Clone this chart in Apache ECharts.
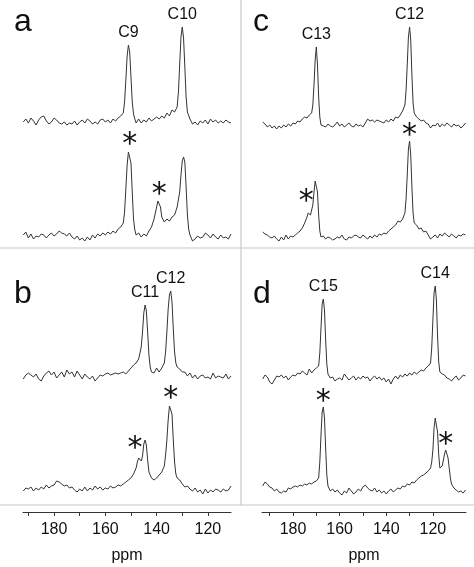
<!DOCTYPE html><html><head><meta charset="utf-8">
<script src="https://cdn.jsdelivr.net/npm/echarts@6/dist/echarts.min.js"></script>
<style>html,body{margin:0;padding:0;background:#fff}#c{width:474px;height:567px}</style></head><body><div id="c"></div>
<script>
// spectra: [ppm, intensity above own baseline]
const aTop=[[192,0],[191,3],[190,-1],[189,4],[188,1],[187,-3],[186,2],[185,5],[184,6],[183,1],[182,-2],[181,0],[180,4],[179,2],[178,-1],[177,-2],[176,0],[175,-3],[174,-1],[173,-2],[172,1],[171,-3],[170,0],[169,2],[168,-1],[167,3],[166,1],[165,-2],[164,0],[163,-2],[162,2],[161,3],[160,0],[159,2],[158,-1],[157,3],[156,1],[155,4],[154,6],[153,9],[152.5,20],[152,42],[151.5,66],[151,77],[150.5,70],[150,45],[149.5,20],[149,8],[148.5,3],[148,-1],[147,3],[146,-1],[145,2],[144,0],[143,4],[142,1],[141,3],[140,5],[139,3],[138,6],[137,4],[136,9],[135,6],[134,12],[133,10],[132,15],[131.5,30],[131,58],[130.5,85],[130,95],[129.5,84],[129,55],[128.5,25],[128,10],[127,3],[126,-2],[125,0],[124,-3],[123,1],[122,-1],[121,2],[120,-2],[119,3],[118,0],[117,2],[116,-1],[115,1],[114,-1],[113,2],[112,0],[111,-1]];
const aBot=[[192,2],[191,5],[190,-1],[189,3],[188,-2],[187,1],[186,0],[185,3],[184,2],[183,-1],[182,2],[181,4],[180,1],[179,3],[178,6],[177,4],[176,3],[175,1],[174,4],[173,0],[172,-2],[171,1],[170,-3],[169,-1],[168,-4],[167,0],[166,-3],[165,2],[164,-1],[163,3],[162,1],[161,4],[160,2],[159,5],[158,3],[157,6],[156,4],[155,8],[154,10],[153,14],[152.5,25],[152,48],[151.5,72],[151,85],[150.5,87],[150,74],[149.5,45],[149,18],[148.5,7],[148,2],[147,4],[146,0],[145,3],[144,1],[143,6],[142,10],[141,18],[140,30],[139.5,36],[139,37],[138.5,30],[138,20],[137,15],[136,18],[135,16],[134,20],[133,22],[132,30],[131,45],[130.5,62],[130,76],[129.5,80],[129,75],[128.5,50],[128,22],[127.5,8],[127,2],[126,-4],[125,-2],[124,1],[123,-1],[122,0],[121,4],[120,2],[119,-1],[118,3],[117,0],[116,-2],[115,2],[114,-1],[113,0],[112,-2],[111,3]];
const bTop=[[192,-2],[191,2],[190,4],[189,2],[188,0],[187,3],[186,-2],[185,-4],[184,1],[183,4],[182,6],[181,2],[180,5],[179,-1],[178,2],[177,5],[176,0],[175,7],[174,3],[173,5],[172,0],[171,6],[170,2],[169,-2],[168,3],[167,0],[166,-2],[165,1],[164,-4],[163,-1],[162,2],[161,1],[160,3],[159,4],[158,2],[157,3],[156,4],[155,3],[154,4],[153,5],[152,3],[151,6],[150,9],[149,12],[148,14],[147,18],[146,30],[145.5,45],[145,64],[144.5,72],[144,66],[143.5,45],[143,22],[142.5,10],[142,5],[141,4],[140,9],[139,5],[138,9],[137,14],[136.5,25],[136,45],[135.5,68],[135,82],[134.5,86],[134,75],[133.5,48],[133,25],[132.5,14],[132,10],[131,8],[130,5],[129,5],[128,1],[127,4],[126,-1],[125,2],[124,-2],[123,1],[122,2],[121,-1],[120,0],[119,-2],[118,4],[117,-1],[116,1],[115,0],[114,-1],[113,3],[112,-2],[111,1]];
const bBot=[[192,-1],[191,2],[190,1],[189,3],[188,-1],[187,2],[186,0],[185,3],[184,1],[183,5],[182,2],[181,4],[180,5],[179,9],[178,8],[177,6],[176,4],[175,5],[174,2],[173,3],[172,0],[171,-2],[170,1],[169,-1],[168,3],[167,-1],[166,2],[165,0],[164,4],[163,1],[162,3],[161,0],[160,2],[159,1],[158,4],[157,2],[156,3],[155,5],[154,4],[153,6],[152,8],[151,10],[150,12],[149,16],[148,22],[147.5,28],[147,32],[146.5,33],[146,29],[145.5,34],[145,46],[144.5,50],[144,45],[143.5,30],[143,18],[142,12],[141,10],[140,12],[139,15],[138,18],[137,24],[136.5,35],[136,50],[135.5,70],[135,84],[134.5,86],[134,76],[133.5,50],[133,28],[132.5,16],[132,12],[131,10],[130,6],[129,3],[128,4],[127,1],[126,-1],[125,2],[124,-2],[123,0],[122,-4],[121,1],[120,-3],[119,0],[118,-2],[117,1],[116,0],[115,-2],[114,1],[113,-1],[112,0],[111,4]];
const cTop=[[193,3],[192,1],[191,-2],[190,0],[189,-3],[188,-1],[187,-4],[186,-1],[185,-3],[184,0],[183,-2],[182,1],[181,-1],[180,2],[179,1],[178,4],[177,3],[176,6],[175,8],[174,7],[173,10],[172,12],[171.5,20],[171,40],[170.5,65],[170,78],[169.5,60],[169,28],[168.5,8],[168,0],[167,-1],[166,-2],[165,1],[164,-1],[163,-2],[162,0],[161,3],[160,-1],[159,1],[158,-2],[157,0],[156,2],[155,-1],[154,-2],[153,1],[152,-1],[151,0],[150,-2],[149,2],[148,6],[147,4],[146,5],[145,3],[144,5],[143,4],[142,3],[141,2],[140,5],[139,3],[138,6],[137,4],[136,8],[135,7],[134,10],[133,14],[132,20],[131.5,35],[131,60],[130.5,88],[130,98],[129.5,85],[129,50],[128.5,22],[128,12],[127,8],[126,6],[125,4],[124,5],[123,2],[122,1],[121,-3],[120,0],[119,-1],[118,2],[117,-2],[116,1],[115,-1],[114,2],[113,0],[112,-2],[111,1],[110,-1],[109,0],[108,-3],[107,-1],[106,2]];
const cBot=[[193,5],[192,3],[191,2],[190,0],[189,-1],[188,1],[187,-2],[186,-4],[185,0],[184,-3],[183,2],[182,-2],[181,1],[180,0],[179,2],[178,4],[177,6],[176,9],[175,14],[174,20],[173.5,24],[173,25],[172.5,22],[172,24],[171.5,32],[171,45],[170.5,56],[170,58],[169.5,45],[169,22],[168.5,6],[168,0],[167,1],[166,-2],[165,0],[164,-1],[163,-3],[162,-2],[161,0],[160,-1],[159,2],[158,-2],[157,-3],[156,0],[155,-1],[154,1],[153,2],[152,0],[151,-1],[150,2],[149,0],[148,-2],[147,1],[146,-1],[145,2],[144,0],[143,3],[142,2],[141,4],[140,3],[139,6],[138,8],[137,10],[136,12],[135,16],[134,15],[133,18],[132,24],[131.5,38],[131,62],[130.5,88],[130,96],[129.5,82],[129,50],[128.5,24],[128,14],[127,12],[126,8],[125,9],[124,5],[123,6],[122,2],[121,-2],[120,0],[119,2],[118,-1],[117,3],[116,1],[115,4],[114,2],[113,0],[112,3],[111,1],[110,-1],[109,2],[108,1],[107,3],[106,2]];
const dTop=[[193,-1],[192,3],[191,1],[190,-4],[189,-6],[188,-2],[187,2],[186,1],[185,3],[184,0],[183,2],[182,-2],[181,1],[180,3],[179,2],[178,5],[177,4],[176,7],[175,5],[174,3],[173,9],[172,5],[171,8],[170,10],[169,12],[168.5,25],[168,50],[167.5,74],[167,79],[166.5,68],[166,38],[165.5,14],[165,4],[164,0],[163,1],[162,-3],[161,-1],[160,0],[159,-2],[158,4],[157,1],[156,-2],[155,0],[154,2],[153,-2],[152,1],[151,-1],[150,2],[149,0],[148,1],[147,-3],[146,0],[145,2],[144,-1],[143,1],[142,-2],[141,0],[140,-4],[139,-1],[138,-6],[137,-1],[136,2],[135,-1],[134,3],[133,1],[132,4],[131,2],[130,5],[129,3],[128,6],[127,4],[126,6],[125,8],[124,7],[123,10],[122,12],[121,15],[120.5,30],[120,58],[119.5,85],[119,92],[118.5,78],[118,42],[117.5,16],[117,6],[116,4],[115,3],[114,0],[113,-1],[112,-3],[111,0],[110,2],[109,-2],[108,0],[107,3],[106,2]];
const dBot=[[193,4],[192,8],[191,6],[190,3],[189,2],[188,-1],[187,1],[186,-2],[185,-3],[184,-1],[183,-2],[182,2],[181,1],[180,3],[179,4],[178,3],[177,5],[176,4],[175,6],[174,5],[173,7],[172,6],[171,8],[170,9],[169,12],[168.5,28],[168,55],[167.5,78],[167,83],[166.5,72],[166,42],[165.5,15],[165,4],[164,-1],[163,1],[162,-2],[161,0],[160,-3],[159,-5],[158,-1],[157,-3],[156,2],[155,-1],[154,-4],[153,-2],[152,1],[151,-1],[150,3],[149,5],[148,2],[147,0],[146,-1],[145,2],[144,-2],[143,0],[142,-3],[141,-1],[140,-4],[139,-1],[138,1],[137,-2],[136,0],[135,2],[134,1],[133,4],[132,3],[131,6],[130,5],[129,8],[128,7],[127,10],[126,12],[125,14],[124,15],[123,17],[122,19],[121,22],[120.5,28],[120,40],[119.5,62],[119,72],[118.5,73],[118,58],[117.5,35],[117,22],[116.5,20],[116,24],[115.5,30],[115,36],[114.5,40],[114,39],[113.5,32],[113,22],[112.5,12],[112,6],[111,2],[110,0],[109,-2],[108,-1],[107,-3],[106,0]];
const peakLabels={a:[['C9',151,77],['C10',130,95]],b:[['C11',144.5,72],['C12',134.5,86]],c:[['C13',170,78],['C12',130,98]],d:[['C15',167,79],['C14',119,92]]};
const starLabels={a:[[150.5,87,0],[139,37,0]],b:[[146.5,36,-5],[134.5,86,0]],c:[[173,30,-3],[130,96,0]],d:[[167,83,0],[114.5,40,0]]};
const xLabels=[120,140,160,180];
const xTicks=[120,130,140,150,160,170,180,190];

const offs={a:[126,11],b:[128,15],c:[123,11],d:[127,15]};
const traces={a:[aTop,aBot],b:[bTop,bBot],c:[cTop,cBot],d:[dTop,dBot]};
const ranges={L:[111,192.1],R:[105.8,193.3]};
const grids=[
 {left:23,width:208,top:0,height:248},
 {left:23,width:208,top:248,height:257},
 {left:262,width:204,top:0,height:248},
 {left:262,width:204,top:248,height:257},
 {left:23,width:208,top:511,height:1},
 {left:262,width:204,top:511,height:1}];
const keys=['a','b','c','d'];
const xAxis=[],yAxis=[],series=[];
keys.forEach((k,i)=>{
 const r=i<2?ranges.L:ranges.R;
 xAxis.push({gridIndex:i,type:'value',inverse:true,min:r[0],max:r[1],show:false});
 yAxis.push({gridIndex:i,type:'value',min:0,max:i%2?257:248,show:false});
 traces[k].forEach((t,j)=>{
  const o=offs[k][j];
  const s={type:'line',xAxisIndex:i,yAxisIndex:i,data:t.map(p=>[p[0],p[1]+o]),showSymbol:false,symbol:'none',
   lineStyle:{color:'#333',width:1},silent:true,animation:false};
  const md=[];
  if(j===0) peakLabels[k].forEach(p=>md.push({coord:[p[1],p[2]+o],label:{formatter:p[0],fontSize:16,distance:4,fontFamily:'Liberation Sans',color:'#111'}}));
  else starLabels[k].forEach(p=>md.push({coord:[p[0],p[1]+o],label:{formatter:'*',fontSize:30,distance:-10,offset:[p[2],0],fontFamily:'DejaVu Sans',color:'#111'}}));
  s.markPoint={symbol:'circle',symbolSize:0,label:{show:true,position:'top'},data:md,animation:false};
  series.push(s);
 });
});
[0,1].forEach(g=>{
 const r=g===0?ranges.L:ranges.R;
 xAxis.push({gridIndex:4+g,type:'value',inverse:true,min:r[0],max:r[1],position:'bottom',
  name:'ppm',nameLocation:'middle',nameGap:36,nameTextStyle:{fontSize:16,color:'#111',fontFamily:'Liberation Sans'},
  axisLine:{lineStyle:{color:'#333'}},splitLine:{show:false},
  axisTick:{customValues:xTicks,length:4,lineStyle:{color:'#333'}},
  axisLabel:{customValues:xLabels,fontSize:16,color:'#111',margin:10,fontFamily:'Liberation Sans'}});
 yAxis.push({gridIndex:4+g,type:'value',show:false});
});
const txt=(t,x,y)=>({type:'text',left:x,top:y,style:{text:t,fontSize:32,fill:'#111',fontFamily:'Liberation Sans'}});
const ln=(x1,y1,x2,y2)=>({type:'line',shape:{x1,y1,x2,y2},style:{stroke:'#c8c8c8',lineWidth:1.2}});
const chart=echarts.init(document.getElementById('c'));
chart.setOption({animation:false,grid:grids,xAxis,yAxis,series,
 graphic:[ln(241,0,241,505),ln(0,248,474,248),ln(0,505,474,505),
  txt('a',14,6),txt('b',14,278),txt('c',253,6),txt('d',253,278)]});
</script></body></html>
